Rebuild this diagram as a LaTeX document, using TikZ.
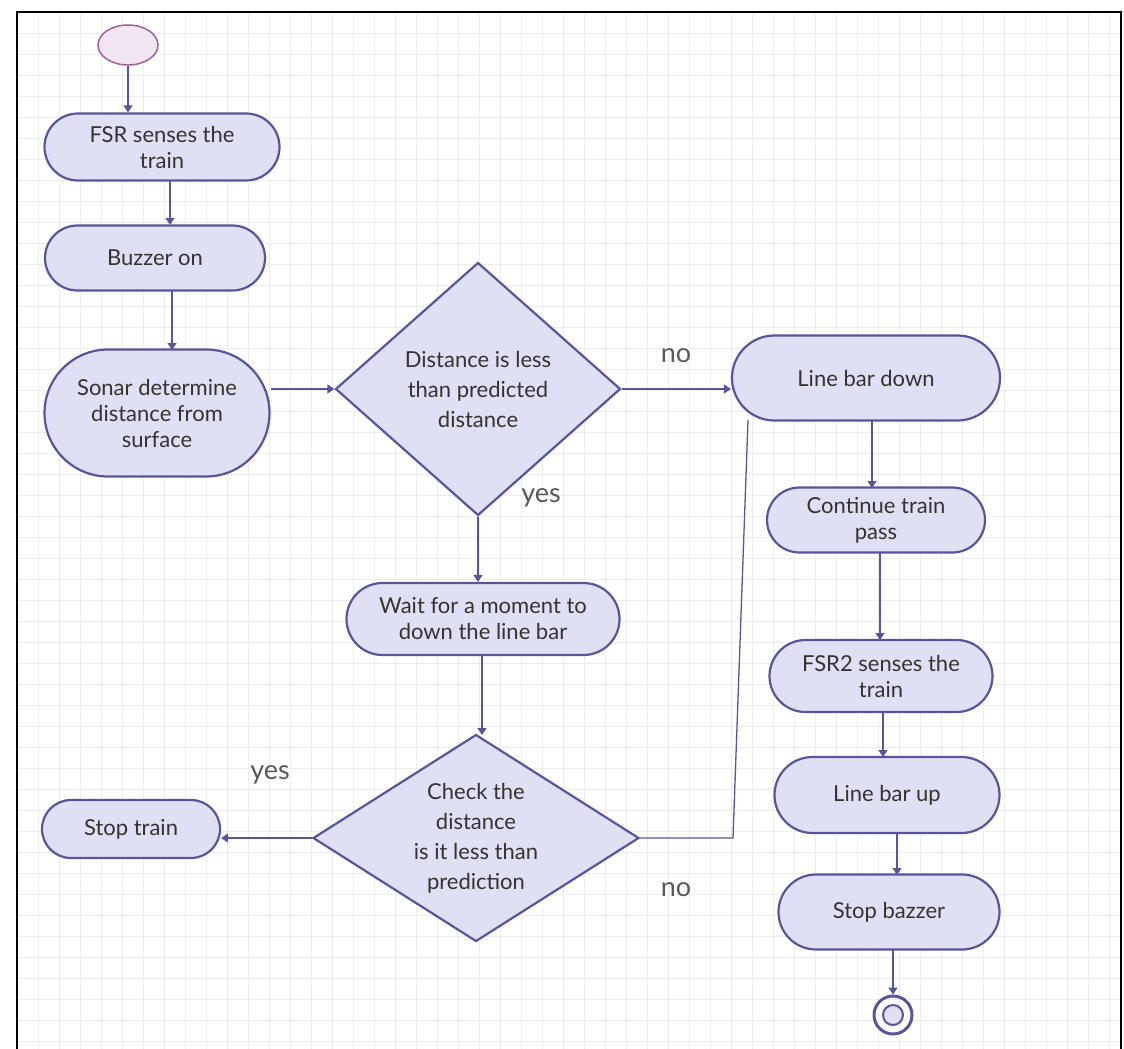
\documentclass[tikz,border=0pt]{standalone}
\usepackage{fontspec}
\setmainfont{Lato}
\usetikzlibrary{shapes.geometric,shapes.misc,arrows.meta}
\definecolor{bfill}{HTML}{E0E0F4}
\definecolor{bdraw}{HTML}{5A559A}
\begin{document}
\begin{tikzpicture}[x=1pt,y=-1pt,
 box/.style={rounded rectangle,draw=bdraw,fill=bfill,line width=2.2pt,align=center,font=\fontsize{22}{26}\selectfont,text=black!80,inner sep=0pt,anchor=center},
 dia/.style={diamond,draw=bdraw,fill=bfill,line width=2.2pt,align=center,font=\fontsize{22}{26}\selectfont,text=black!80,inner sep=0pt,aspect=1.1},
 arr/.style={draw=bdraw,line width=1.3pt,-{Triangle[length=7pt,width=9pt]}},
 lab/.style={font=\fontsize{27}{30}\selectfont,text=black!65}]
\useasboundingbox (0,0) rectangle (1124,1049);
\fill[white] (0,0) rectangle (1124,1049);
\begin{scope}
\clip (17,12) rectangle (1120,1049);
\foreach \x in {17,38,...,1124} \draw[black!7,line width=0.5pt] (\x,12) -- (\x,1049);
\foreach \y in {12,33,...,1049} \draw[black!7,line width=0.5pt] (17,\y) -- (1124,\y);
\end{scope}
\draw[black,line width=2.5pt] (17,12) rectangle (1121,1052);
\node[ellipse,draw=black!35!violet!60,fill=violet!10,line width=1.5pt,minimum width=60pt,minimum height=40pt] (start) at (128,45) {};
\node[box,minimum width=235pt,minimum height=67pt] (fsr) at (162,147) {FSR senses the\\train};
\node[box,minimum width=220pt,minimum height=65pt] (buz) at (155,258) {Buzzer on};
\node[box,minimum width=225pt,minimum height=127pt] (sonar) at (157,413) {Sonar determine\\distance from\\surface};
\node[dia,minimum width=285pt,minimum height=253pt] (d1) at (478,389) {};
\node[align=center,font=\fontsize{22}{30}\selectfont,text=black!80] at (478,389) {Distance is less\\than predicted\\distance};
\node[box,minimum width=268pt,minimum height=85pt] (down) at (866,378) {Line bar down};
\node[box,minimum width=273pt,minimum height=72pt] (wait) at (483,619) {Wait for a moment to\\down the line bar};
\node[dia,minimum width=326pt,minimum height=207pt] (d2) at (476,838) {};
\node[align=center,font=\fontsize{22}{30}\selectfont,text=black!80] at (476,838) {Check the\\distance\\is it less than\\prediction};
\node[box,minimum width=178pt,minimum height=58pt] (stop) at (131,829) {Stop train};
\node[box,minimum width=218pt,minimum height=65pt] (cont) at (876,520) {Continue train\\pass};
\node[box,minimum width=223pt,minimum height=72pt] (fsr2) at (881,676) {FSR2 senses the\\train};
\node[box,minimum width=225pt,minimum height=76pt] (up) at (887,795) {Line bar up};
\node[box,minimum width=221pt,minimum height=75pt] (sb) at (889,912) {Stop bazzer};
\node[circle,draw=bdraw,line width=3pt,minimum size=38pt] (end) at (893,1015) {};
\node[circle,draw=bdraw,fill=bfill,line width=2pt,minimum size=20pt] at (end) {};
\coordinate (k1) at (733,838);
\coordinate (k2) at (748,420);
\draw[arr] (start.south) -- (start.south|-fsr.north);
\draw[arr] (170,180) -- (170,225);
\draw[arr] (172,291) -- (172,350);
\draw[arr] (sonar.east|-d1) -- (d1.west);
\draw[arr] (d1.east) -- (down.west|-d1.east);
\draw[arr] (d1.south) -- (d1.south|-wait.north);
\draw[arr] (482,655) -- (482,735);
\draw[arr] (d2.west) -- (stop.east|-d2.west);
\draw[draw=bdraw,line width=1.3pt] (d2.east) -- (k1) -- (k2);
\draw[arr] (872,420) -- (872,488);
\draw[arr] (880,553) -- (880,640);
\draw[arr] (883,712) -- (883,757);
\draw[arr] (897,833) -- (897,875);
\draw[arr] (893,950) -- (end.north);
\node[lab] at (676,356) {no};
\node[lab] at (541,498) {yes};
\node[lab] at (270,775) {yes};
\node[lab] at (676,890) {no};
\end{tikzpicture}
\end{document}
